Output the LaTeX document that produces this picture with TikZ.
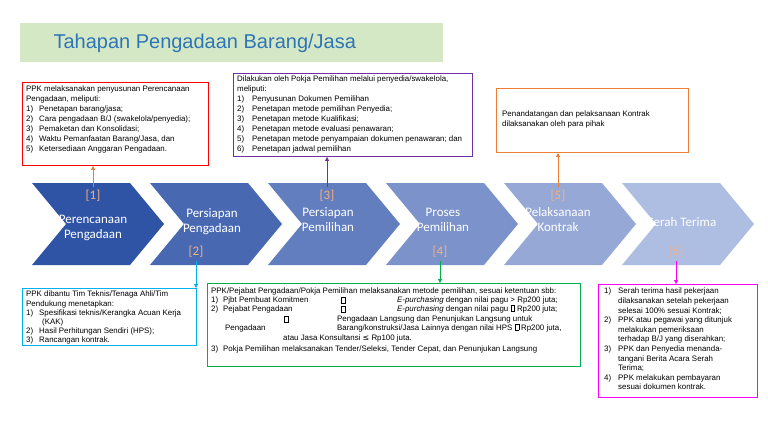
\documentclass[tikz,border=0pt]{standalone}
\usepackage{fontspec}
\setmainfont{Liberation Sans}
\newfontfamily\chfont{Carlito}
\usetikzlibrary{arrows.meta}
\definecolor{cA}{HTML}{2F54A6}
\definecolor{cB}{HTML}{AEBDE2}
\definecolor{lab}{HTML}{F4B183}
\definecolor{tgreen}{HTML}{D5E8C6}
\definecolor{tblue}{HTML}{2E75B6}
\definecolor{ora}{HTML}{ED7D31}
\definecolor{pur}{HTML}{7030A0}
\definecolor{cy}{HTML}{00B0F0}
\definecolor{gr}{HTML}{00B050}
\definecolor{mag}{HTML}{FF00FF}
\newcommand{\tofu}{{\setlength\fboxsep{0pt}\setlength\fboxrule{0.4pt}\fbox{\rule{0pt}{5.5pt}\hspace{3.5pt}}}}
\tikzset{
  box/.style={draw, line width=0.9pt, anchor=north west, inner sep=0pt},
  txt/.style={anchor=north west, inner sep=0pt, font=\fontsize{7.9}{10}\selectfont, align=left},
  gt/.style={anchor=west, inner sep=0pt, font=\fontsize{7.9}{9}\selectfont},
  chl/.style={text=white, font=\chfont\fontsize{13}{15}\selectfont, align=center},
  num/.style={text=lab, font=\chfont\fontsize{13}{14}\selectfont},
  conn/.style={line width=0.8pt, -{Triangle[length=4pt,width=4pt]}}
}
\begin{document}
\begin{tikzpicture}[x=1pt,y=-1pt]
\useasboundingbox (0,0) rectangle (768,433);
\fill[white] (0,0) rectangle (768,433);
% title
\node[fill=tgreen, anchor=north west, minimum width=423pt, minimum height=39pt, inner sep=0pt] (title) at (20,23) {};
\node[text=tblue, font=\fontsize{20}{24}\selectfont, anchor=west] at (50,43) {Tahapan Pengadaan Barang/Jasa};
% chevrons
\foreach \i/\x/\p in {1/32/0,2/150/20,3/268/40,4/386/60,5/504/80,6/622/100}{
  \fill[cB!\p!cA] (\x,183) -- (\x+98,183) -- (\x+132,224) -- (\x+98,265) -- (\x,265) -- (\x+34,224) -- cycle;
  \coordinate (c\i) at (\x+74,224);
}
\node[chl] at (93,228) {Perencanaan\\Pengadaan};
\node[num] (n1) at (93,196) {[1]};
\node[chl] at (212,222) {Persiapan\\Pengadaan};
\node[num] (n2) at (196,252) {[2]};
\node[chl] at (328,220) {Persiapan\\Pemilihan};
\node[num] (n3) at (327,196) {[3]};
\node[chl] at (443,220) {Proses\\Pemilihan};
\node[num] (n4) at (440,252) {[4]};
\node[chl] at (558,220) {Pelaksanaan\\Kontrak};
\node[num] (n5) at (558,196) {[5]};
\node[chl] at (682,222) {Serah Terima};
\node[num] (n6) at (676,252) {[6]};
% boxes
\node[box, draw=red, minimum width=186pt, minimum height=83pt] (b1) at (22,82) {};
\node[txt] at (26,86) {PPK melaksanakan penyusunan Perencanaan\\Pengadaan, meliputi:\\
1)\hspace{6pt}Penetapan barang/jasa;\\2)\hspace{6pt}Cara pengadaan B/J (swakelola/penyedia);\\
3)\hspace{6pt}Pemaketan dan Konsolidasi;\\4)\hspace{6pt}Waktu Pemanfaatan Barang/Jasa, dan\\
5)\hspace{6pt}Ketersediaan Anggaran Pengadaan.};
\node[box, draw=pur, minimum width=239pt, minimum height=83pt] (b3) at (233,73) {};
\node[txt] at (237,76) {Dilakukan oleh Pokja Pemilihan melalui penyedia/swakelola,\\meliputi:\\
1)\hspace{8pt}Penyusunan Dokumen Pemilihan\\2)\hspace{8pt}Penetapan metode pemilihan Penyedia;\\
3)\hspace{8pt}Penetapan metode Kualifikasi;\\4)\hspace{8pt}Penetapan metode evaluasi penawaran;\\
5)\hspace{8pt}Penetapan metode penyampaian dokumen penawaran; dan\\6)\hspace{8pt}Penetapan jadwal pemilihan};
\node[box, draw=ora, minimum width=192pt, minimum height=64pt] (b5) at (496,88) {};
\node[txt] at (502,111) {Penandatangan dan pelaksanaan Kontrak\\dilaksanakan oleh para pihak};
\node[box, draw=cy, minimum width=174pt, minimum height=57pt] (b2) at (22,288) {};
\node[txt, font=\fontsize{7.9}{9.2}\selectfont] at (26,291) {PPK dibantu Tim Teknis/Tenaga Ahli/Tim\\Pendukung menetapkan:\\
1)\hspace{6pt}Spesifikasi teknis/Kerangka Acuan Kerja\\\hspace{16pt}(KAK)\\
2)\hspace{6pt}Hasil Perhitungan Sendiri (HPS);\\3)\hspace{6pt}Rancangan kontrak.};
\node[box, draw=gr, minimum width=373pt, minimum height=83pt] (b4) at (207,283) {};
\node[gt] at (211,291) {PPK/Pejabat Pengadaan/Pokja Pemilihan melaksanakan metode pemilihan, sesuai ketentuan sbb:};
\node[gt] at (211,300) {1)\hspace{5pt}Pjbt Pembuat Komitmen};
\node[gt] at (341,300) {\tofu};
\node[gt] at (397,300) {\textit{E-purchasing} dengan nilai pagu > Rp200 juta;};
\node[gt] at (211,309) {2)\hspace{5pt}Pejabat Pengadaan};
\node[gt] at (341,309) {\tofu};
\node[gt] at (397,309) {\textit{E-purchasing} dengan nilai pagu \tofu\ Rp200 juta;};
\node[gt] at (284,319) {\tofu};
\node[gt] at (337,319) {Pengadaan Langsung dan Penunjukan Langsung untuk};
\node[gt] at (225,328) {Pengadaan};
\node[gt] at (337,328) {Barang/konstruksi/Jasa Lainnya dengan nilai HPS \tofu\ Rp200 juta,};
\node[gt] at (283,338) {atau Jasa Konsultansi {\fontspec{DejaVu Sans}≤} Rp100 juta.};
\node[gt] at (211,349) {3)\hspace{5pt}Pokja Pemilihan melaksanakan Tender/Seleksi, Tender Cepat, dan Penunjukan Langsung};
\node[box, draw=mag, minimum width=159pt, minimum height=113pt] (b6) at (598,284) {};
\node[txt, font=\fontsize{7.9}{9.6}\selectfont] at (604,287) {\begin{tabular}{@{}l@{\hspace{7pt}}l@{}}
1)&Serah terima hasil pekerjaan\\&dilaksanakan setelah pekerjaan\\&selesai 100\% sesuai Kontrak;\\
2)&PPK atau pegawai yang ditunjuk\\&melakukan pemeriksaan\\&terhadap B/J yang diserahkan;\\
3)&PPK dan Penyedia menanda-\\&tangani Berita Acara Serah\\&Terima;\\
4)&PPK melakukan pembayaran\\&sesuai dokumen kontrak.\end{tabular}};
% connectors
\draw[conn, ora] (n1.north) -- (n1.north |- b1.south);
\draw[conn, pur] (n3.north) -- (n3.north |- b3.south);
\draw[conn, ora] (n5.north) -- (n5.north |- b5.south);
\draw[conn, cy] (n2.south) -- (n2.south |- b2.north);
\draw[conn, gr] (n4.south) -- (n4.south |- b4.north);
\draw[conn, mag] (n6.south) -- (n6.south |- b6.north);
\end{tikzpicture}
\end{document}
